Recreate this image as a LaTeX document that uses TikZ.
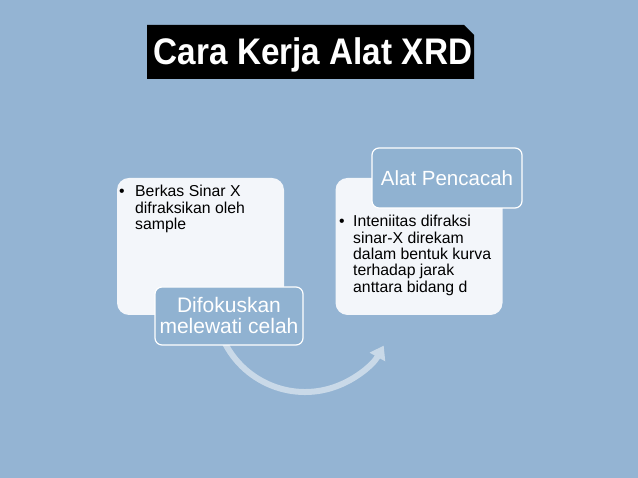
\documentclass[tikz,border=0pt]{standalone}
\usepackage{fontspec}
\setmainfont{Liberation Sans}
\usetikzlibrary{arrows.meta}
\definecolor{bg}{HTML}{94B4D3}
\definecolor{lightbox}{HTML}{F3F6FA}
\definecolor{accbox}{HTML}{90B2D1}
\definecolor{arrowc}{HTML}{C9D9E8}
\tikzset{
  bigbox/.style={rectangle, rounded corners=12pt, fill=lightbox, minimum width=167pt, minimum height=137pt, inner sep=0pt},
  accentbox/.style={rectangle, rounded corners=7pt, fill=accbox, draw=white, line width=1.2pt, inner sep=0pt, text=white, align=center},
  bullettext/.style={anchor=base west, inner sep=0pt, text=black, font=\fontsize{15.8}{16.25}\selectfont},
}
\begin{document}
\begin{tikzpicture}[x=1pt,y=1pt]
\fill[bg] (0,0) rectangle (638,478);
\useasboundingbox (0,0) rectangle (638,478);
% title
\fill[black] (147,399) -- (147,453) -- (464,453) -- (474,443) -- (474,399) -- cycle;
\node[anchor=base, inner sep=0pt, text=white, xscale=0.9, font=\bfseries\fontsize{37}{40}\selectfont] (title) at (313,413) {Cara Kerja Alat XRD};
% arrow
\coordinate (arcstart) at ({305+90*cos(200)},{176+90*sin(200)});
\draw[arrowc, line width=6pt, -{Triangle[width=17pt,length=13pt]}] (arcstart) arc[start angle=200, end angle=331, radius=90pt];
% boxes
\node[bigbox] (lbox) at (200.5,231.5) {};
\node[bigbox] (rbox) at (419,231.5) {};
\node[bullettext] (ltext) at (119,281) {\begin{tabular}[t]{@{}p{16pt}@{}l@{}}•&Berkas Sinar X\\&difraksikan oleh\\&sample\end{tabular}};
\node[bullettext] (rtext) at (339,251) {\begin{tabular}[t]{@{}p{14pt}@{}l@{}}•&Inteniitas difraksi\\&sinar-X direkam\\&dalam bentuk kurva\\&terhadap jarak\\&anttara bidang d\end{tabular}};
\node[accentbox, minimum width=148pt, minimum height=58pt, font=\fontsize{21}{21}\selectfont] (sbox) at (229,162) {Difokuskan\\melewati celah};
\node[accentbox, minimum width=150pt, minimum height=60pt, font=\fontsize{20.5}{21}\selectfont] (abox) at (447,300) {Alat Pencacah};
\end{tikzpicture}
\end{document}
